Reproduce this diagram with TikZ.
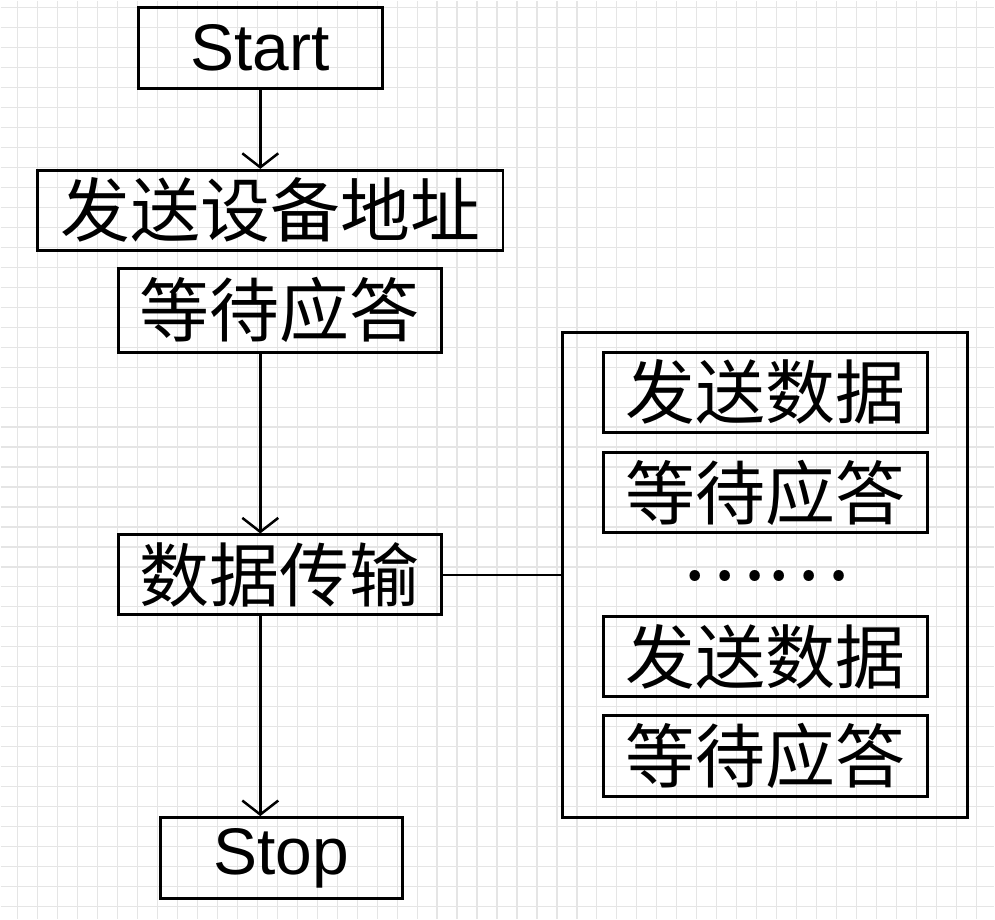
\documentclass[tikz,border=0pt]{standalone}
\usepackage{fontspec}
\setmainfont{Liberation Sans}
\newfontfamily\cjk{Noto Sans CJK SC}
\usetikzlibrary{arrows.meta}
\begin{document}
\begin{tikzpicture}[x=1pt,y=-1pt,
  bx/.style={draw,line width=3pt,inner sep=0pt},
  ln/.style={line width=2.5pt},
  arr/.style={ln,-{Straight Barb[length=14pt,width=36pt,line width=2.5pt]}}]
\fill[white] (0,0) rectangle (995,919);
\foreach \x in {17,37,...,995} \draw[black!10,line width=1.2pt] (\x,0)--(\x,919);
\foreach \y in {7,27,...,919} \draw[black!10,line width=1.2pt] (0,\y)--(995,\y);
\newcommand\bnode[6]{\node[bx,minimum width=#3-#2,minimum height=#5-#4,font=\fontsize{66}{66}\selectfont] (#1) at ({(#2+#3)/2},{(#4+#5)/2}) {#6};}
\bnode{start}{138}{382}{7}{88}{Start}
\bnode{addr}{37}{503}{170}{250}{\cjk\fontsize{70}{70}\selectfont 发送设备地址}
\bnode{wait}{118}{441}{268}{352}{\cjk\fontsize{70}{70}\selectfont 等待应答}
\bnode{data}{118}{441}{535}{615}{\cjk\fontsize{70}{70}\selectfont 数据传输}
\bnode{stop}{160}{402}{818}{899}{Stop}
\bnode{big}{563}{968}{332}{818}{}
\bnode{s1}{604}{928}{352}{432}{\cjk\fontsize{70}{70}\selectfont 发送数据}
\bnode{w1}{604}{928}{452}{533}{\cjk\fontsize{70}{70}\selectfont 等待应答}
\bnode{s2}{604}{928}{617}{697}{\cjk\fontsize{70}{70}\selectfont 发送数据}
\bnode{w2}{604}{928}{716}{797}{\cjk\fontsize{70}{70}\selectfont 等待应答}
\node[inner sep=0pt,text height=8pt,text depth=0pt,font=\cjk\fontsize{80}{80}\selectfont] (dots) at (766,568) {\raisebox{-9pt}{……}};
\draw[arr] (start.south) -- (start.south |- addr.north);
\draw[arr] (wait.south -| 260,0) -- (data.north -| 260,0);
\draw[arr] (data.south -| 260,0) -- (stop.north -| 260,0);
\draw[ln] (data.east) -- (big.west |- data.east);
\end{tikzpicture}
\end{document}
